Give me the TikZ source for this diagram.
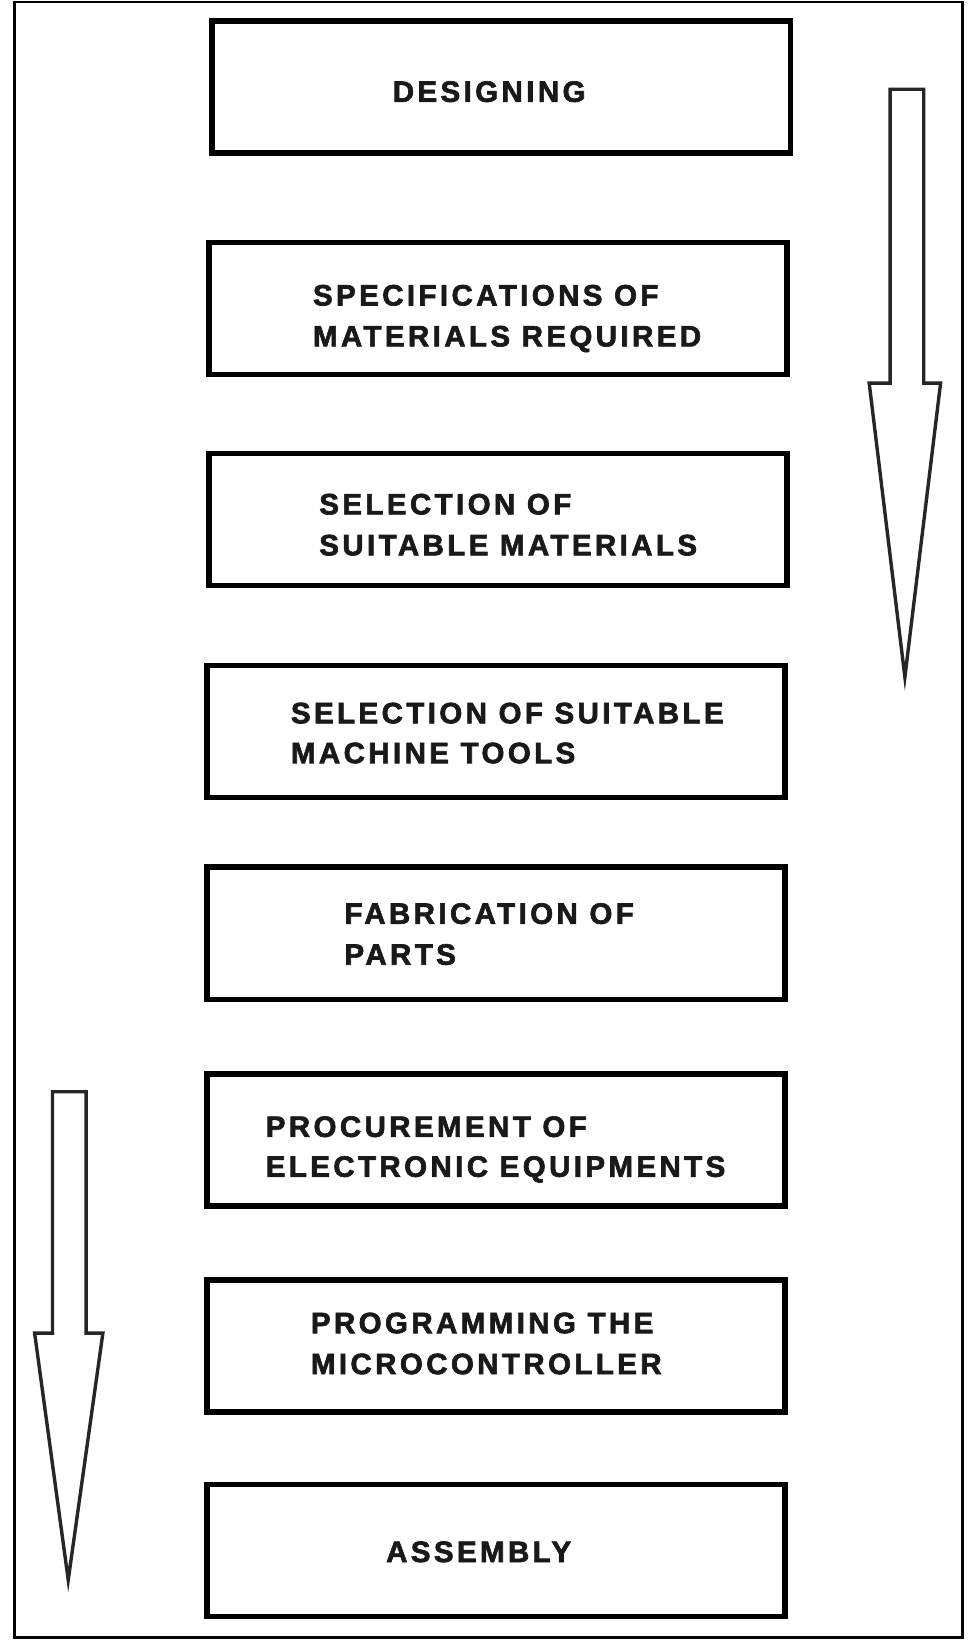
\documentclass[tikz,border=0pt]{standalone}
\usepackage{fontspec}
\setmainfont{Liberation Sans}
\newfontfamily\boxfont[LetterSpace=11.5, BoldFeatures={FakeBold=2.2}]{Liberation Sans}
\begin{document}
\begin{tikzpicture}[x=1.0495pt,y=-1.0495pt,
  stepbox/.style={draw=black, line width=5.5pt, rectangle, minimum width=578pt, minimum height=132pt, inner sep=0pt},
  txt/.style={inner sep=0pt, font=\boxfont\bfseries\fontsize{29.5}{35}\selectfont, text=black!90},
  bigarrow/.style={draw=black!85, line width=3.4pt, fill=white}]
\useasboundingbox (0,0) rectangle (929,1568);
\draw[line width=2.6pt] (14,2) rectangle (917,1560);
% boxes
\node[stepbox] (b1) at (477.5,83) {};
\node[stepbox] (b2) at (474.5,294) {};
\node[stepbox] (b3) at (474.5,495) {};
\node[stepbox] (b4) at (472.5,697) {};
\node[stepbox] (b5) at (472.5,889) {};
\node[stepbox] (b6) at (472.5,1086) {};
\node[stepbox] (b7) at (472.5,1282) {};
\node[stepbox] (b8) at (472.5,1477) {};
% texts
\node[txt, anchor=base] (t1) at (466,97) {DESIGNING};
\node[txt, anchor=base west] (t2a) at (298,291) {SPECIFICATIONS OF};
\node[txt, anchor=base west] (t2b) at (298,330) {MATERIALS REQUIRED};
\node[txt, anchor=base west] (t3a) at (304,490) {SELECTION OF};
\node[txt, anchor=base west] (t3b) at (304,529) {SUITABLE MATERIALS};
\node[txt, anchor=base west] (t4a) at (277,689) {SELECTION OF SUITABLE};
\node[txt, anchor=base west] (t4b) at (277,727) {MACHINE TOOLS};
\node[txt, anchor=base west] (t5a) at (328,880) {FABRICATION OF};
\node[txt, anchor=base west] (t5b) at (328,919) {PARTS};
\node[txt, anchor=base west] (t6a) at (253,1083) {PROCUREMENT OF};
\node[txt, anchor=base west] (t6b) at (253,1121) {ELECTRONIC EQUIPMENTS};
\node[txt, anchor=base west] (t7a) at (296,1270) {PROGRAMMING THE};
\node[txt, anchor=base west] (t7b) at (296,1309) {MICROCONTROLLER};
\node[txt, anchor=base] (t8) at (456,1488) {ASSEMBLY};
% block arrows
\draw[bigarrow] (848,85) -- (880,85) -- (880,365) -- (896,365) -- (862,645) -- (828,365) -- (848,365) -- cycle;
\draw[bigarrow] (50,1040) -- (82,1040) -- (82,1270) -- (98,1270) -- (65,1505) -- (33,1270) -- (50,1270) -- cycle;
\end{tikzpicture}
\end{document}
